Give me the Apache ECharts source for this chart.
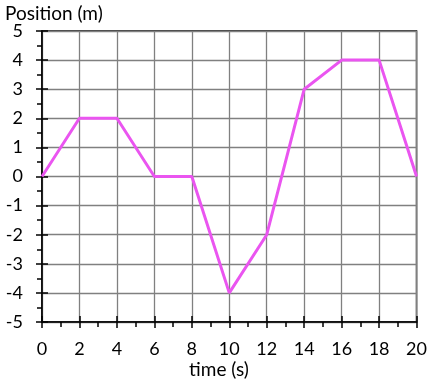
<!DOCTYPE html>
<html><head><meta charset="utf-8">
<script src="https://cdn.jsdelivr.net/npm/echarts@6/dist/echarts.min.js"></script>
<style>html,body{margin:0;padding:0;background:#fff}#c{width:430px;height:384px}</style>
</head><body><div id="c"></div>
<script>
var times = [0, 2, 4, 6, 8, 10, 12, 14, 16, 18, 20];
var positions = [0, 2, 2, 0, 0, -4, -2, 3, 4, 4, 0];
var yTitle = 'Position (m)';
var xTitle = 'time (s)';
var data = times.map(function (t, i) { return [t, positions[i]]; });
var font = 'Lato, "Open Sans", sans-serif';
var chart = echarts.init(document.getElementById('c'));
chart.setOption({
  animation: false,
  grid: { left: 42, right: 13, top: 31, bottom: 62, show: true, borderColor: '#000', borderWidth: 1.5 },
  graphic: [
    { type: 'text', left: 5, top: 4, style: { text: yTitle, font: '19px ' + font, fill: '#000' } },
    { type: 'text', x: 219, y: 370, style: { text: xTitle, font: '19px ' + font, fill: '#000', textAlign: 'center', textVerticalAlign: 'middle' } }
  ],
  xAxis: [{
    type: 'value', min: 0, max: 20, interval: 2,
    axisLine: { show: true, onZero: false, lineStyle: { color: '#000', width: 1.5 } },
    axisTick: { show: true, length: 6, lineStyle: { color: '#000', width: 1.5 } },
    minorTick: { show: true, splitNumber: 2, length: 5, lineStyle: { color: '#000', width: 1.5 } },
    axisLabel: { margin: 18, fontSize: 18, fontFamily: font, color: '#000' },
    splitLine: { show: true, lineStyle: { color: '#808080', width: 1.3 } }
  }, {
    type: 'value', min: 0, max: 20, interval: 2, position: 'bottom',
    axisLine: { show: false, onZero: false },
    axisTick: { show: true, inside: true, length: 6, lineStyle: { color: '#000', width: 1.5 } },
    axisLabel: { show: false }, splitLine: { show: false }
  }],
  yAxis: [{
    type: 'value', min: -5, max: 5, interval: 1,
    axisLine: { show: true, onZero: false, lineStyle: { color: '#000', width: 1.5 } },
    axisTick: { show: true, length: 6, lineStyle: { color: '#000', width: 1.5 } },
    minorTick: { show: true, splitNumber: 2, length: 5, lineStyle: { color: '#000', width: 1.5 } },
    axisLabel: { margin: 19, fontSize: 18, fontFamily: font, color: '#000' },
    splitLine: { show: true, lineStyle: { color: '#808080', width: 1.3 } }
  }, {
    type: 'value', min: -5, max: 5, interval: 1, position: 'left',
    axisLine: { show: false, onZero: false },
    axisTick: { show: true, inside: true, length: 6, lineStyle: { color: '#000', width: 1.5 } },
    axisLabel: { show: false }, splitLine: { show: false }
  }],
  series: [{
    type: 'line', data: data, symbol: 'none',
    lineStyle: { color: '#EA55F0', width: 3 }
  }]
});
</script></body></html>
